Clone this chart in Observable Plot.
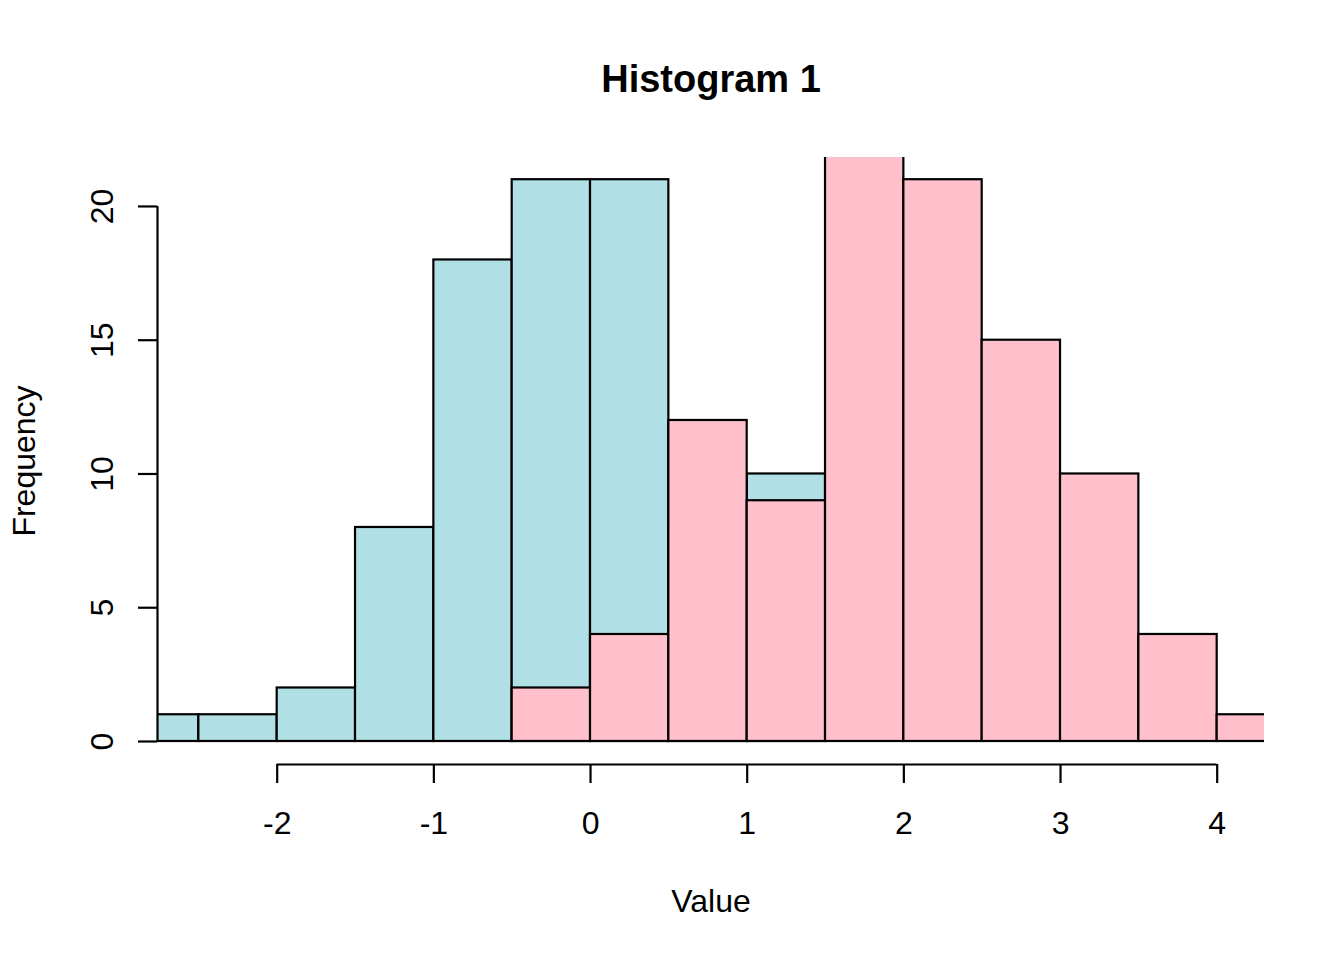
<!DOCTYPE html>
<html><head><meta charset="utf-8">
<script src="https://cdn.jsdelivr.net/npm/d3@7"></script>
<script src="https://cdn.jsdelivr.net/npm/@observablehq/plot@0.6"></script>
<style>body{margin:0;background:#fff}</style>
</head><body><div id="chart"></div>
<script>
const blueBreaks = [-3, -2.5, -2, -1.5, -1, -0.5, 0, 0.5, 1, 1.5];
const blueCounts = [1, 1, 2, 8, 18, 21, 21, 8, 10];
const pinkBreaks = [-0.5, 0, 0.5, 1, 1.5, 2, 2.5, 3, 3.5, 4, 4.5];
const pinkCounts = [2, 4, 12, 9, 22, 21, 15, 10, 4, 1];
const xTicks = [-2, -1, 0, 1, 2, 3, 4];
const yTicks = [0, 5, 10, 15, 20];
const xLimits = [-2.764, 4.302];
const yLimits = [-0.86, 21.83];
const titleText = "Histogram 1";
const xLabel = "Value";
const yLabel = "Frequency";

const toBins = (breaks, counts) => counts.map((c, i) => ({x1: breaks[i], x2: breaks[i + 1], y: c}));
const blue = toBins(blueBreaks, blueCounts);
const pink = toBins(pinkBreaks, pinkCounts);
const font = "'Liberation Sans', Arial, Helvetica, sans-serif";
const lw = 2.2;
const fs = 32;

const plot = Plot.plot({
  width: 1344, height: 960,
  marginLeft: 157, marginRight: 80, marginTop: 157, marginBottom: 196,
  x: {domain: xLimits, axis: null},
  y: {domain: yLimits, axis: null},
  style: {fontFamily: font, background: "#fff", color: "#000"},
  marks: [
    Plot.rect(blue, {x1: "x1", x2: "x2", y1: () => 0, y2: "y", fill: "#B0E0E6", stroke: "#000", strokeWidth: lw, clip: true}),
    Plot.rect(pink, {x1: "x1", x2: "x2", y1: () => 0, y2: "y", fill: "#FFC0CB", stroke: "#000", strokeWidth: lw, clip: true}),
    Plot.ruleY([yLimits[0]], {x1: xTicks[0], x2: xTicks[xTicks.length - 1], stroke: "#000", strokeWidth: lw}),
    Plot.ruleX([xLimits[0]], {y1: yTicks[0], y2: yTicks[yTicks.length - 1], stroke: "#000", strokeWidth: lw}),
    Plot.axisX({ticks: xTicks, tickSize: 19, tickFormat: () => "", label: null, strokeWidth: lw, stroke: "#000"}),
    Plot.axisY({ticks: yTicks, tickSize: 19, tickFormat: () => "", label: null, strokeWidth: lw, stroke: "#000"}),
    Plot.text(xTicks, {x: d => d, text: d => String(d), frameAnchor: "bottom", dy: 69, lineAnchor: "bottom", fontSize: fs, fill: "#000"}),
    Plot.text(yTicks, {y: d => d, text: d => String(d), frameAnchor: "left", dx: -45, rotate: -90, lineAnchor: "bottom", textAnchor: "middle", fontSize: fs, fill: "#000"}),
    Plot.text([yLabel], {text: d => d, frameAnchor: "left", dx: -123, rotate: -90, lineAnchor: "bottom", textAnchor: "middle", fontSize: fs, fill: "#000"}),
    Plot.text([xLabel], {text: d => d, frameAnchor: "bottom", dy: 147, lineAnchor: "bottom", fontSize: fs, fill: "#000"}),
    Plot.text([titleText], {text: d => d, frameAnchor: "top", dy: -66, lineAnchor: "bottom", fontSize: 38, fontWeight: "bold", fill: "#000"})
  ]
});
document.getElementById("chart").appendChild(plot);
</script>
</body></html>
